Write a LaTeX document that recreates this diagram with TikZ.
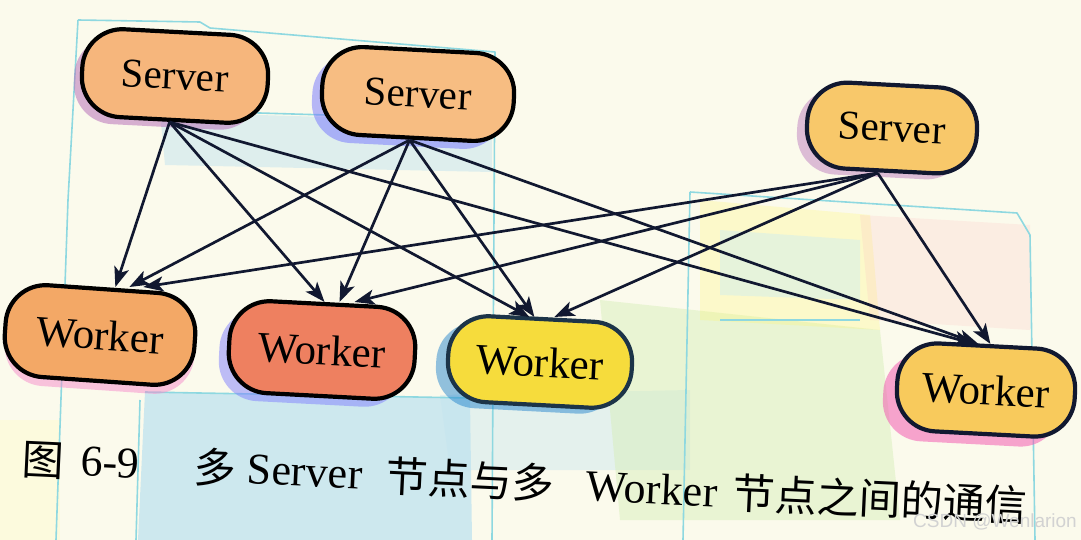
\documentclass[tikz,border=0pt]{standalone}
\usepackage{fontspec}
\setmainfont{Liberation Serif}
\newfontfamily\cjk{Noto Sans CJK SC}
\newfontfamily\wmfont{Liberation Sans}
\usetikzlibrary{arrows.meta,shadows}
\definecolor{paper}{HTML}{FBFAEC}
\definecolor{cyanline}{HTML}{8ED8E0}
\definecolor{wash}{HTML}{C2E4EF}
\definecolor{arrowc}{HTML}{111830}
\definecolor{sone}{HTML}{F6B67C}
\definecolor{stwo}{HTML}{F7BD82}
\definecolor{sthree}{HTML}{F8C86A}
\definecolor{wone}{HTML}{F3A866}
\definecolor{wtwo}{HTML}{EE8060}
\definecolor{wthree}{HTML}{F6DC3C}
\definecolor{wfour}{HTML}{F8CA5C}
\definecolor{edgeblue}{HTML}{1C3448}
\tikzset{
  pill/.style={draw=black, line width=4.2pt, rounded corners=40pt,
    minimum height=88pt, inner sep=0pt, text=black,
    font=\fontsize{41}{41}\selectfont},
  wtext/.style={font=\fontsize{43}{43}\selectfont},
  arr/.style={draw=arrowc, line width=2.7pt,
    -{Stealth[length=20pt,width=15pt,inset=5pt]}},
  captext/.style={inner sep=0pt, text=black, rotate=-2.7},
  capzh/.style={captext, font=\cjk\fontsize{42}{42}\selectfont},
  capen/.style={captext, font=\fontsize{44}{44}\selectfont},
  bgline/.style={draw=cyanline, line width=1.6pt, line join=round}
}
\begin{document}
\begin{tikzpicture}[x=1pt,y=-1pt]
\fill[paper] (0,0) rectangle (1081,540);
\useasboundingbox (0,0) rectangle (1081,540);

% faint background washes
\fill[wash, opacity=0.8] (145,392) -- (470,398) -- (472,540) -- (138,540) -- cycle;
\fill[wash, opacity=0.5] (160,112) -- (492,122) -- (492,172) -- (165,165) -- cycle;
\fill[wash, opacity=0.4] (440,395) -- (690,390) -- (690,470) -- (450,470) -- cycle;
\fill[yellow!45!green!30, opacity=0.45] (600,300) -- (880,330) -- (900,520) -- (620,520) -- cycle;
\fill[yellow!60, opacity=0.25] (700,200) -- (870,215) -- (880,330) -- (700,320) -- cycle;
\fill[red!25, opacity=0.22] (860,215) -- (1030,225) -- (1030,330) -- (870,320) -- cycle;
\fill[cyan!25, opacity=0.35] (720,230) -- (860,240) -- (860,300) -- (720,295) -- cycle;
\fill[yellow!30, opacity=0.25] (0,420) -- (60,420) -- (60,540) -- (0,540) -- cycle;

% faint background frames
\draw[bgline] (78,20) -- (200,22) -- (210,28) -- (495,52) -- (492,540);
\draw[bgline] (78,20) -- (68,200) -- (56,540);
\draw[bgline] (160,110) -- (492,120);
\draw[bgline] (145,392) -- (470,398);
\draw[bgline] (140,400) -- (136,540);
\draw[bgline] (690,192) -- (1017,213) -- (1030,235) -- (1035,540);
\draw[bgline] (690,192) -- (683,540);
\draw[bgline] (720,320) -- (860,320);

% servers
\node[pill, fill=sone, minimum width=186pt, rotate=-3,
  drop shadow={shadow xshift=-8pt, shadow yshift=-7pt, fill=violet!55, opacity=0.55}]
  (s1) at (175,76) {Server};
\node[pill, fill=stwo, minimum width=192pt, rotate=-3,
  drop shadow={shadow xshift=-10pt, shadow yshift=-8pt, fill=blue!55, opacity=0.5}]
  (s2) at (418,94) {Server};
\node[pill, fill=sthree, minimum width=170pt, minimum height=86pt, rotate=-3, draw=arrowc,
  drop shadow={shadow xshift=-10pt, shadow yshift=-6pt, fill=violet!50, opacity=0.5}]
  (s3) at (892,128) {Server};

% workers
\node[pill, wtext, fill=wone, minimum width=190pt, minimum height=92pt, rotate=-4,
  drop shadow={shadow xshift=0pt, shadow yshift=-9pt, fill=magenta!45, opacity=0.5}]
  (w1) at (100,335) {Worker};
\node[pill, wtext, fill=wtwo, minimum width=186pt, minimum height=92pt, rotate=-3,
  drop shadow={shadow xshift=-10pt, shadow yshift=-8pt, fill=blue!50, opacity=0.5}]
  (w2) at (322,350) {Worker};
\node[pill, wtext, fill=wthree, minimum width=184pt, minimum height=86pt, rotate=-3, draw=edgeblue,
  drop shadow={shadow xshift=-12pt, shadow yshift=-6pt, fill=cyan!60!blue, opacity=0.45}]
  (w3) at (540,362) {Worker};
\node[pill, wtext, fill=wfour, minimum width=178pt, rotate=-3, draw=arrowc,
  drop shadow={shadow xshift=-14pt, shadow yshift=-10pt, fill=magenta!70, opacity=0.5}]
  (w4) at (986,390) {Worker};

% connectors
\draw[arr] ([xshift=-3pt]s1.south) -- ([xshift=12pt]w1.north);
\draw[arr] ([xshift=-3pt]s1.south) -- ([xshift=0pt]w2.north);
\draw[arr] ([xshift=-3pt]s1.south) -- ([xshift=-13pt]w3.north);
\draw[arr] ([xshift=-3pt]s1.south) -- ([xshift=-14pt]w4.north);
\draw[arr] ([xshift=-6pt]s2.south) -- ([xshift=26pt]w1.north);
\draw[arr] ([xshift=-6pt]s2.south) -- ([xshift=15pt]w2.north);
\draw[arr] ([xshift=-6pt]s2.south) -- ([xshift=-8pt]w3.north);
\draw[arr] ([xshift=-6pt]s2.south) -- ([xshift=-10pt]w4.north);
\draw[arr] ([xshift=-12pt]s3.south) -- ([xshift=40pt]w1.north);
\draw[arr] ([xshift=-12pt]s3.south) -- ([xshift=30pt]w2.north);
\draw[arr] ([xshift=-12pt]s3.south) -- ([xshift=12pt]w3.north);
\draw[arr] ([xshift=-12pt]s3.south) -- ([xshift=2pt]w4.north);

% caption
\node[capzh] (c1) at (43,460) {图};
\node[capen] (c2) at (110,463) {6-9};
\node[capzh] (c3) at (215,468) {多};
\node[capen] (c4) at (305,472) {Server};
\node[capzh] (c5) at (470,480) {节点与多};
\node[capen] (c6) at (652,489) {Worker};
\node[capzh] (c7) at (880,499) {节点之间的通信};

% watermark
\node[inner sep=0pt, text=gray!35, font=\wmfont\fontsize{19}{19}\selectfont] (wm) at (995,522) {CSDN @Wenlarion};
\end{tikzpicture}
\end{document}
